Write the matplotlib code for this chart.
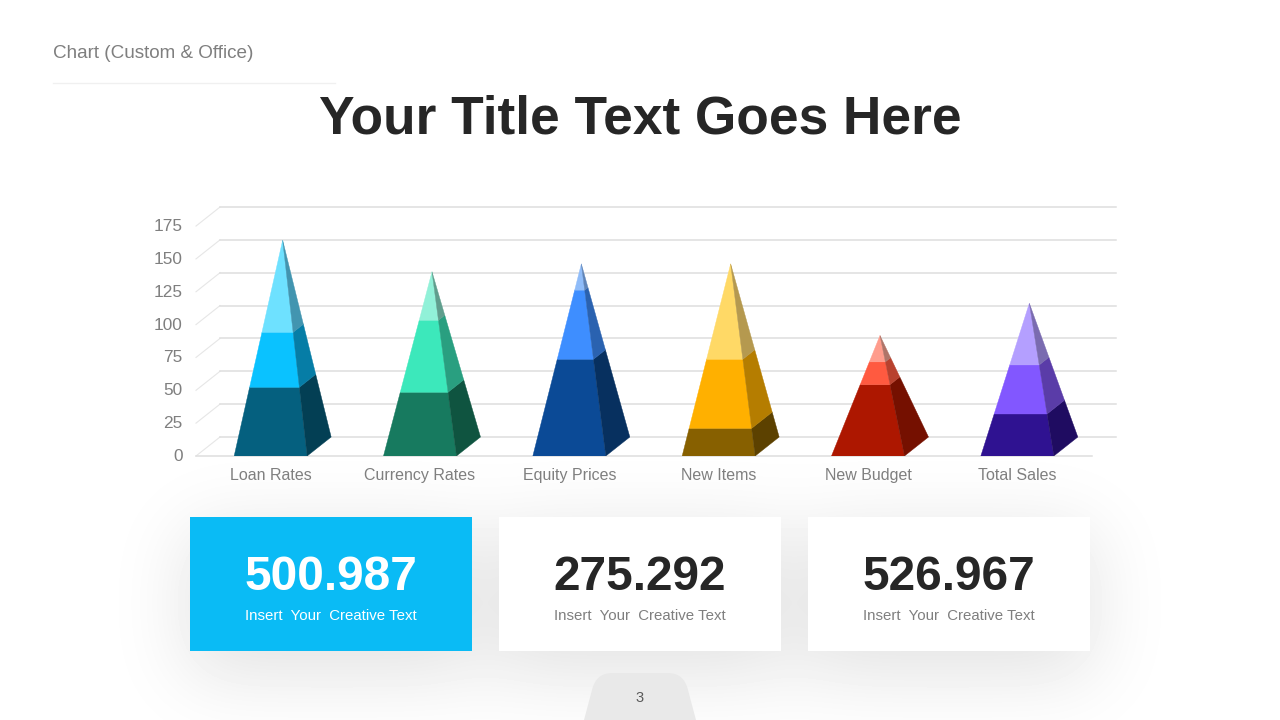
import math
import numpy as np
import matplotlib
matplotlib.use("Agg")
import matplotlib.pyplot as plt
from matplotlib.patches import PathPatch, Polygon, Rectangle
from matplotlib.path import Path
from matplotlib.transforms import ScaledTranslation

plt.rcParams['font.family'] = ['Liberation Sans', 'DejaVu Sans']

# data
categories = ["Loan Rates", "Currency Rates", "Equity Prices", "New Items", "New Budget", "Total Sales"]
series_bottom = [50, 46, 70, 20, 50, 30]
series_middle = [40, 52, 50, 50, 16, 35]
series_top = [67, 35, 19, 69, 18.5, 44]
y_ticks = [0, 25, 50, 75, 100, 125, 150, 175]

card_values = ["500.987", "275.292", "526.967"]
card_texts = ["Insert  Your  Creative Text"] * 3

# colours, one row per category, bottom to top
front_colors = [
    ["#05607f", "#0ac2ff", "#6ee1ff"],
    ["#177a5f", "#3ce8bb", "#91f1d8"],
    ["#0b4a96", "#3e8eff", "#8fbcf9"],
    ["#876000", "#ffb000", "#ffd966"],
    ["#ad1700", "#ff5a40", "#ff9c8c"],
    ["#2f1291", "#8257ff", "#b49fff"],
]
side_colors = [
    ["#033f54", "#067da6", "#4295b0"],
    ["#0f5440", "#299f80", "#5f9e8d"],
    ["#07305f", "#2a62b0", "#5f84b8"],
    ["#5c4100", "#b57d00", "#b5994f"],
    ["#751000", "#b8412e", "#b07468"],
    ["#1f0c61", "#5a3ca8", "#7a6bb0"],
]

W, H = 1280, 720
GRID = "#dedede"
GRAY = "#7f7f7f"
DARK = "#262626"

fig = plt.figure(figsize=(12.8, 7.2), dpi=100, facecolor="white")

# page layer in pixel coords
bg = fig.add_axes([0, 0, 1, 1], zorder=0)
bg.set_xlim(0, W)
bg.set_ylim(H, 0)
bg.axis("off")

card_x = [190, 499, 808]
card_w, card_h, card_top = 282, 134, 517


def soft_edge(t):
    return 0.5 * (1 + np.vectorize(math.erf)(t))


# blurred shadow under the cards
xx = np.arange(W) + 0.5
yy = np.arange(H) + 0.5
sigma = 38
light = np.ones((H, W))
for cx in card_x:
    sx = soft_edge((xx - cx + 4) / (sigma * 1.41)) - soft_edge((xx - cx - card_w - 4) / (sigma * 1.41))
    sy = soft_edge((yy - card_top - 12) / (sigma * 1.41)) - soft_edge((yy - card_top - card_h - 26) / (sigma * 1.41))
    light *= 1 - 0.11 * np.outer(sy, sx)
bg.imshow(light, cmap="gray", vmin=0, vmax=1, extent=(0, W, H, 0), aspect="auto", zorder=0)

# page number tab
tab = Path(
    [(584, 720), (592, 690), (596, 673), (612, 673), (668, 673), (684, 673), (688, 690), (696, 720), (584, 720)],
    [Path.MOVETO, Path.LINETO, Path.CURVE3, Path.CURVE3, Path.LINETO, Path.CURVE3, Path.CURVE3, Path.LINETO, Path.CLOSEPOLY],
)
bg.add_patch(PathPatch(tab, facecolor="#e9e9e9", edgecolor="none", zorder=1))
bg.text(639.5, 698.5, "3", fontsize=10.5, color="#595959", ha="center", va="center", zorder=2)

# header
bg.text(53, 53.5, "Chart (Custom & Office)", fontsize=13.6, color=GRAY, ha="left", va="center")
bg.plot([53, 335], [83, 83], color="#f0f0f0", lw=1)
bg.text(640, 119.5, "Your Title Text Goes Here", fontsize=38.3, fontweight="bold", color=DARK, ha="center", va="center")

# cards
for i, cx in enumerate(card_x):
    face = "#0abbf5" if i == 0 else "white"
    bg.add_patch(Rectangle((cx, card_top), card_w, card_h, facecolor=face, edgecolor="none", zorder=2))
    bg.text(cx + card_w / 2, 577, card_values[i], fontsize=34.5, fontweight="bold",
            color="white" if i == 0 else DARK, ha="center", va="center", zorder=3)
    bg.text(cx + card_w / 2, 615.5, card_texts[i], fontsize=10.8, color="white" if i == 0 else GRAY,
            ha="center", va="center", zorder=3)

# chart axes, front floor runs 196..1092 px, back wall is offset by (24, -19) px
cat_px = 896 / 6
unit_px = 1.314
depth_x = 24 / cat_px
depth_y = 19 / unit_px
base_w = 73 / cat_px

ax = fig.add_axes([196 / W, (H - 456) / H, 920 / W, 250 / H], zorder=1)
ax.patch.set_alpha(0)
ax.set_xlim(-0.5, 5.5 + depth_x)
ax.set_ylim(0, 250 / unit_px)
for s in ax.spines.values():
    s.set_visible(False)
ax.set_xticks(range(len(categories)))
ax.set_xticklabels(categories)
ax.set_yticks(y_ticks)
ax.tick_params(length=0, labelsize=11.5, labelcolor=GRAY)
ax.tick_params(axis="x", pad=8.5)
ax.tick_params(axis="y", pad=9.5, labelsize=12.4)
nudge = ScaledTranslation(0, 1 / 100, fig.dpi_scale_trans)
for lbl in ax.get_yticklabels():
    lbl.set_transform(lbl.get_transform() + nudge)

# walls and floor
for v in y_ticks:
    ax.plot([-0.5, -0.5 + depth_x], [v, v + depth_y], color="#e6e6e6", lw=0.8, clip_on=False, zorder=1)
    ax.plot([-0.5 + depth_x, 5.5 + depth_x], [v + depth_y, v + depth_y], color=GRID, lw=1.1, clip_on=False, zorder=1)
ax.plot([-0.5, 5.5], [0, 0], color=GRID, lw=1.1, clip_on=False, zorder=1)


def lerp(p, q, t):
    return (p[0] + (q[0] - p[0]) * t, p[1] + (q[1] - p[1]) * t)


# pyramids
for i in range(len(categories)):
    parts = [series_bottom[i], series_middle[i], series_top[i]]
    total = sum(parts)
    fl = (i - base_w / 2, 0)
    fr = (i + base_w / 2, 0)
    br = (i + base_w / 2 + depth_x, depth_y)
    apex = (i + depth_x / 2, total + depth_y / 2)
    start = 0
    for j, part in enumerate(parts):
        t0 = start / total
        t1 = (start + part) / total
        start += part
        ax.add_patch(Polygon([lerp(fl, apex, t0), lerp(fr, apex, t0), lerp(fr, apex, t1), lerp(fl, apex, t1)],
                             closed=True, facecolor=front_colors[i][j], edgecolor=front_colors[i][j],
                             lw=0.3, zorder=3))
        ax.add_patch(Polygon([lerp(fr, apex, t0), lerp(br, apex, t0), lerp(br, apex, t1), lerp(fr, apex, t1)],
                             closed=True, facecolor=side_colors[i][j], edgecolor=side_colors[i][j],
                             lw=0.3, zorder=3))

fig.savefig("out.png", dpi=100)
